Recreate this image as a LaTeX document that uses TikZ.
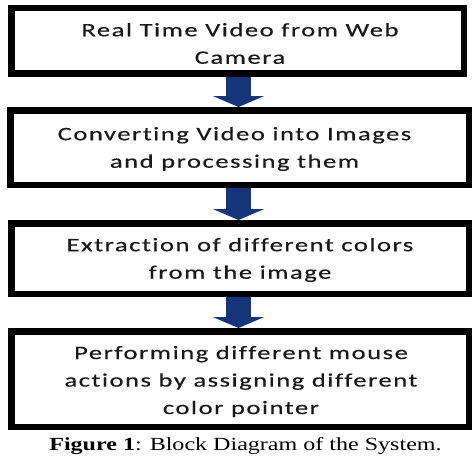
\documentclass[tikz,border=0pt]{standalone}
\usepackage{fontspec}
\setmainfont{Liberation Serif}[FakeStretch=1.3]
\newfontfamily\boxfont[FakeStretch=1.4,LetterSpace=8,FakeBold=0.4,Ligatures=NoCommon]{Carlito}
\usetikzlibrary{arrows.meta,backgrounds,calc}
\definecolor{arrowblue}{RGB}{22,52,120}
\definecolor{textgray}{RGB}{25,25,25}
\begin{document}
\begin{tikzpicture}[x=1pt,y=-1pt,
  stepbox/.style={draw=black,line width=6.5pt,inner sep=0pt},
  steptext/.style={inner sep=0pt,align=center,
    font=\boxfont\fontsize{19}{27.5}\selectfont,text=textgray},
  flowarrow/.style={draw=arrowblue,line width=25pt,
    -{Triangle[width=51pt,length=11pt]}}]
\useasboundingbox (0,0) rectangle (474,460);
\node[stepbox,minimum width=452.5pt,minimum height=65.5pt] (b1) at (237.5,41) {};
\node[stepbox,minimum width=458.5pt,minimum height=74.5pt] (b2) at (239.5,147.5) {};
\node[stepbox,minimum width=457.5pt,minimum height=70.5pt] (b3) at (240,258.5) {};
\node[stepbox,minimum width=457.5pt,minimum height=95.5pt] (b4) at (240,379) {};
\node[steptext] (t1) at ($(b1.center)+(2.5,2.5)$) {Real Time Video from Web\\Camera};
\node[steptext] (t2) at ($(b2.center)+(-5,1.5)$) {Converting Video into Images\\and processing them};
\node[steptext] (t3) at ($(b3.center)+(0,1.5)$) {Extraction of different colors\\from the image};
\node[steptext] (t4) at ($(b4.center)+(1,2.5)$) {Performing different mouse\\actions by assigning different\\color pointer};
\coordinate (ax) at (238.5,0);
\begin{scope}[on background layer]
\draw[flowarrow] (b1.south -| ax) -- (b2.north -| ax);
\draw[flowarrow] (b2.south -| ax) -- (b3.north -| ax);
\draw[flowarrow] (b3.south -| ax) -- (b4.north -| ax);
\end{scope}
\node[anchor=base,inner sep=0pt,font=\fontsize{18.5}{20}\selectfont] (cap) at (245.5,450)
  {\textbf{Figure 1}: Block Diagram of the System.};
\end{tikzpicture}
\end{document}
